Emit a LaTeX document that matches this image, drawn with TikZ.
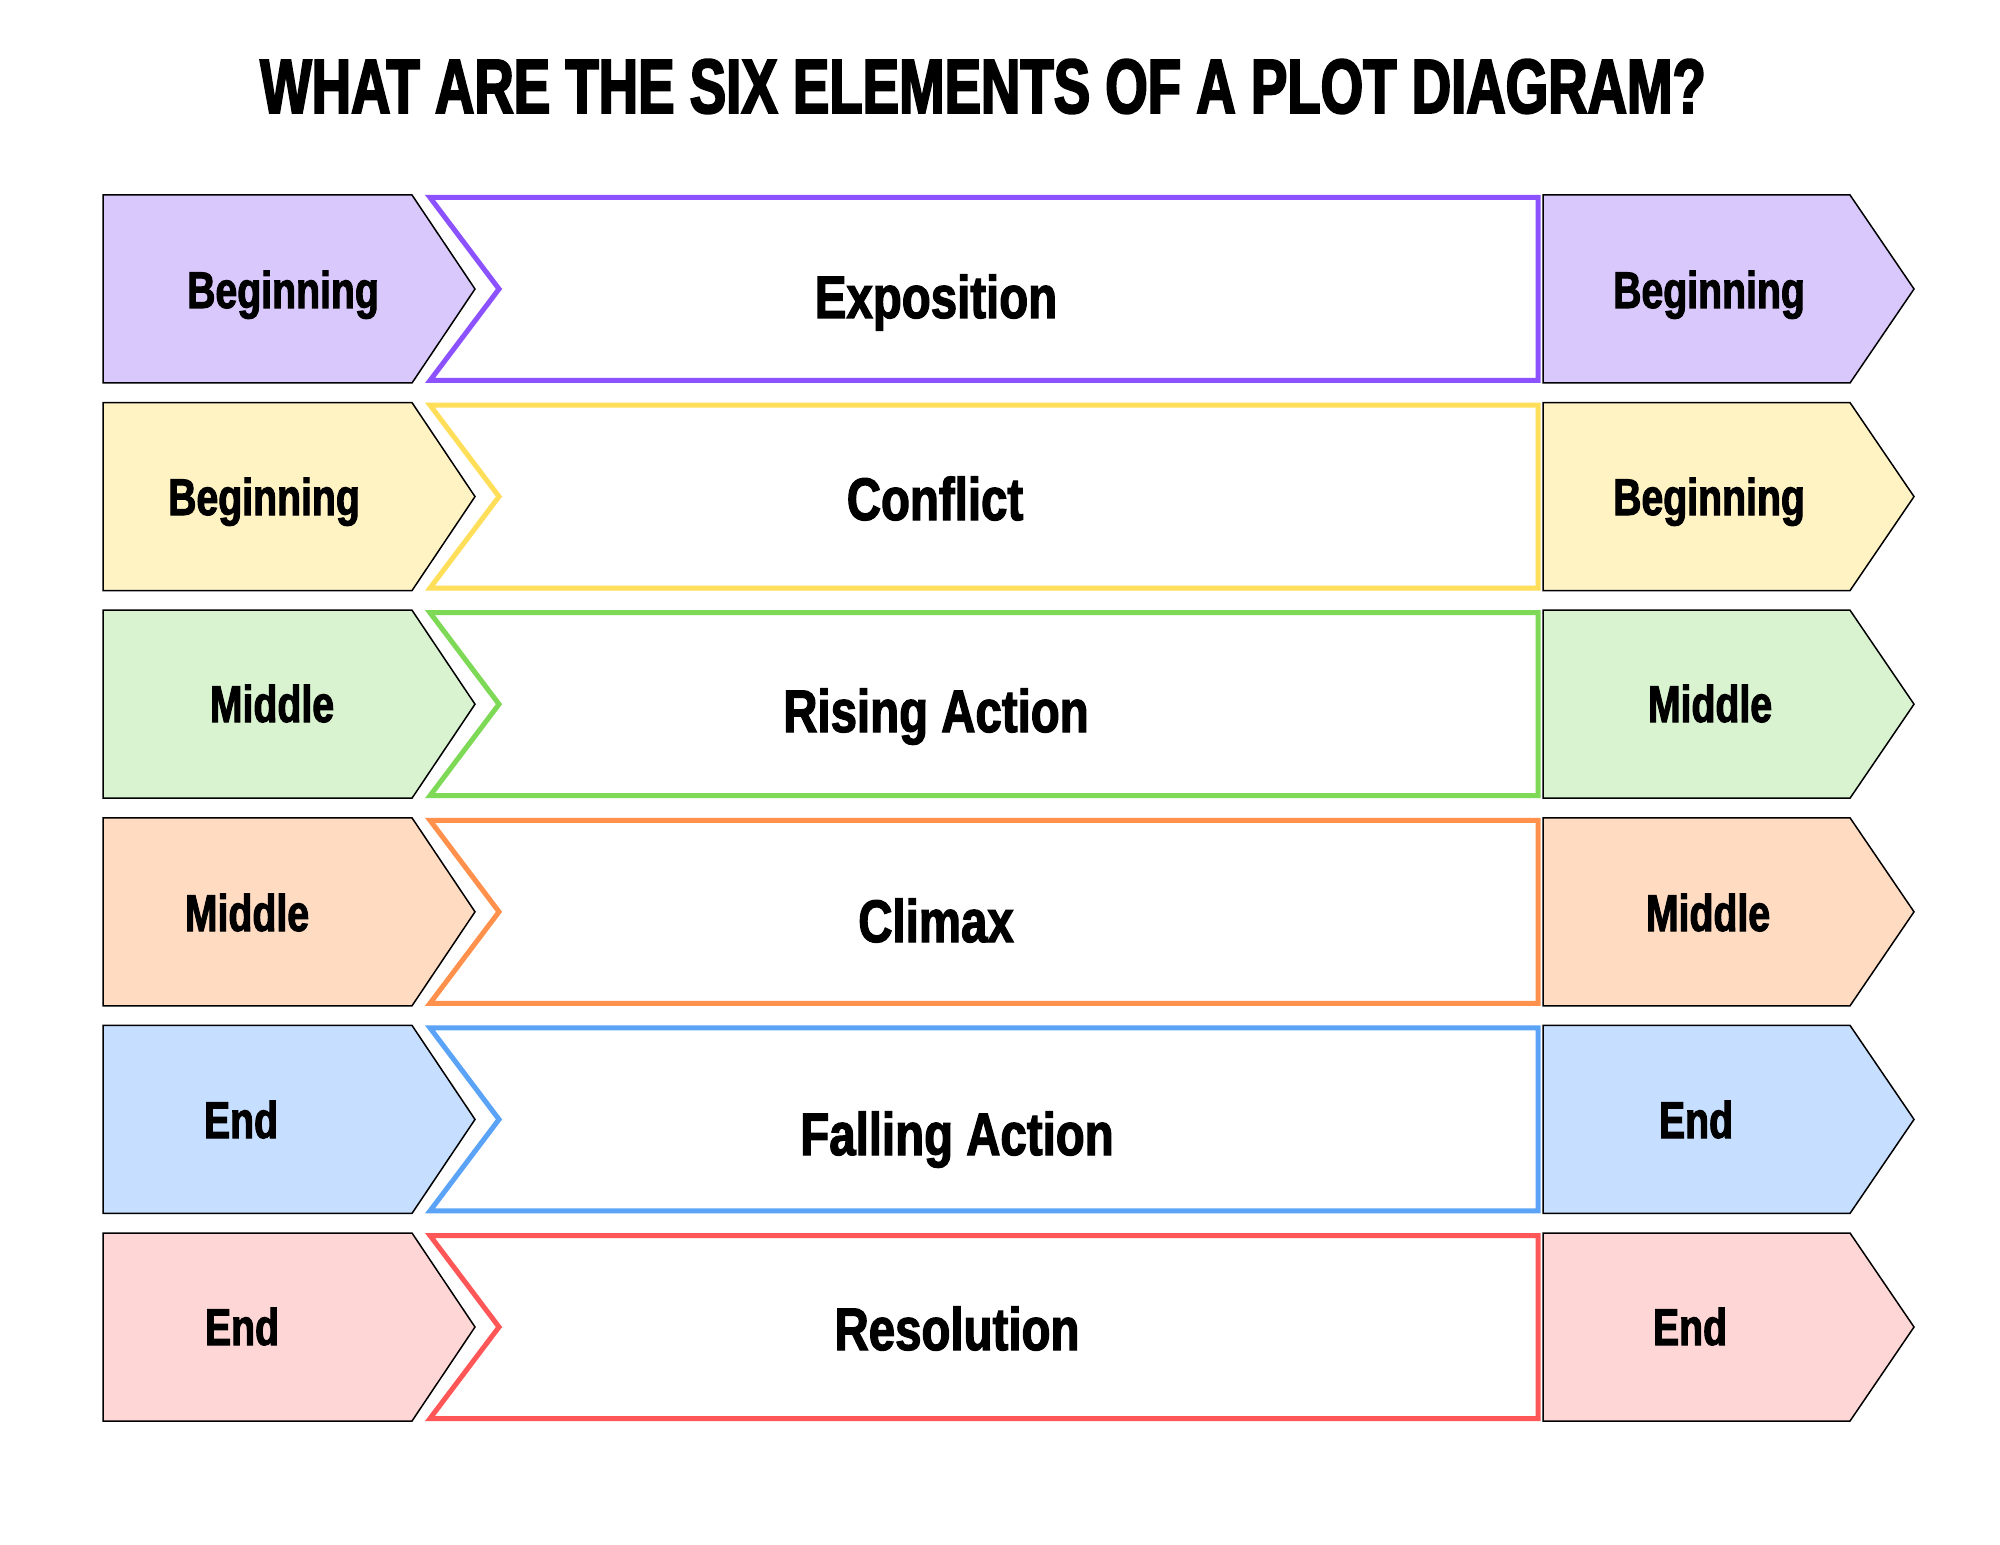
\documentclass[tikz,border=0pt]{standalone}
\usepackage{fontspec}
\setmainfont{Liberation Sans}
\newfontfamily\titlef[FakeStretch=0.709,FakeBold=2.5]{Liberation Sans}
\newfontfamily\midf[FakeStretch=0.79,FakeBold=2]{Liberation Sans}
\newfontfamily\labf[FakeStretch=0.76,FakeBold=2]{Liberation Sans}
\definecolor{fa}{HTML}{D9C8FB}\definecolor{la}{HTML}{8C52FF}
\definecolor{fb}{HTML}{FFF3C4}\definecolor{lb}{HTML}{FFDE59}
\definecolor{fc}{HTML}{D9F2CF}\definecolor{lc}{HTML}{7ED957}
\definecolor{fd}{HTML}{FFDBC2}\definecolor{ld}{HTML}{FF914D}
\definecolor{fe}{HTML}{C6DEFF}\definecolor{le}{HTML}{5BA3F7}
\definecolor{ff}{HTML}{FFD6D6}\definecolor{lf}{HTML}{FF5757}
\tikzset{
  pent/.style={draw=black,line width=0.75pt,line join=miter},
  midbox/.style={line width=2.5pt,fill=white,line join=miter},
  labtext/.style={inner sep=0pt,anchor=base,font=\labf\bfseries\fontsize{25.8}{28}\selectfont},
  midtext/.style={inner sep=0pt,anchor=base,font=\midf\bfseries\fontsize{30}{32}\selectfont},
  titletext/.style={inner sep=0pt,anchor=base,font=\titlef\bfseries\fontsize{38.5}{40}\selectfont}
}
\begin{document}
\begin{tikzpicture}[x=0.5pt,y=-0.5pt]
\useasboundingbox[fill=white] (0,0) rectangle (2000,1545);
\node[titletext] (title) at (983,113) {WHAT ARE THE SIX ELEMENTS OF A PLOT DIAGRAM?};
\foreach \i/\fcol/\lcol/\ll/\cc/\rl/\lx/\cx/\rx/\lbase/\cbase in {
  0/fa/la/Beginning/Exposition/Beginning/283/936/1709/308/318,
  1/fb/lb/Beginning/Conflict/Beginning/264/935/1709/515/520,
  2/fc/lc/Middle/Rising Action/Middle/272/936/1710/722/732,
  3/fd/ld/Middle/Climax/Middle/247/936/1708/931/942,
  4/fe/le/End/Falling Action/End/241/957/1696/1138/1155,
  5/ff/lf/End/Resolution/End/242/957/1690/1345/1350}
{
  \pgfmathsetmacro\t{195+207.6*\i}
  \pgfmathsetmacro\b{\t+188}
  \pgfmathsetmacro\m{\t+94}
  \pgfmathsetmacro\ta{\t+2.5}
  \pgfmathsetmacro\ba{\b-2.5}
  \draw[pent,fill=\fcol] (103,\t) -- (412,\t) -- (475,\m) -- (412,\b) -- (103,\b) -- cycle;
  \draw[midbox,draw=\lcol] (430,\ta) -- (1538,\ta) -- (1538,\ba) -- (430,\ba) -- (499,\m) -- cycle;
  \draw[pent,fill=\fcol] (1543,\t) -- (1850,\t) -- (1914,\m) -- (1850,\b) -- (1543,\b) -- cycle;
  \node[labtext] (L\i) at (\lx,\lbase) {\ll};
  \node[midtext] (C\i) at (\cx,\cbase) {\cc};
  \node[labtext] (R\i) at (\rx,\lbase) {\rl};
}
\end{tikzpicture}
\end{document}
